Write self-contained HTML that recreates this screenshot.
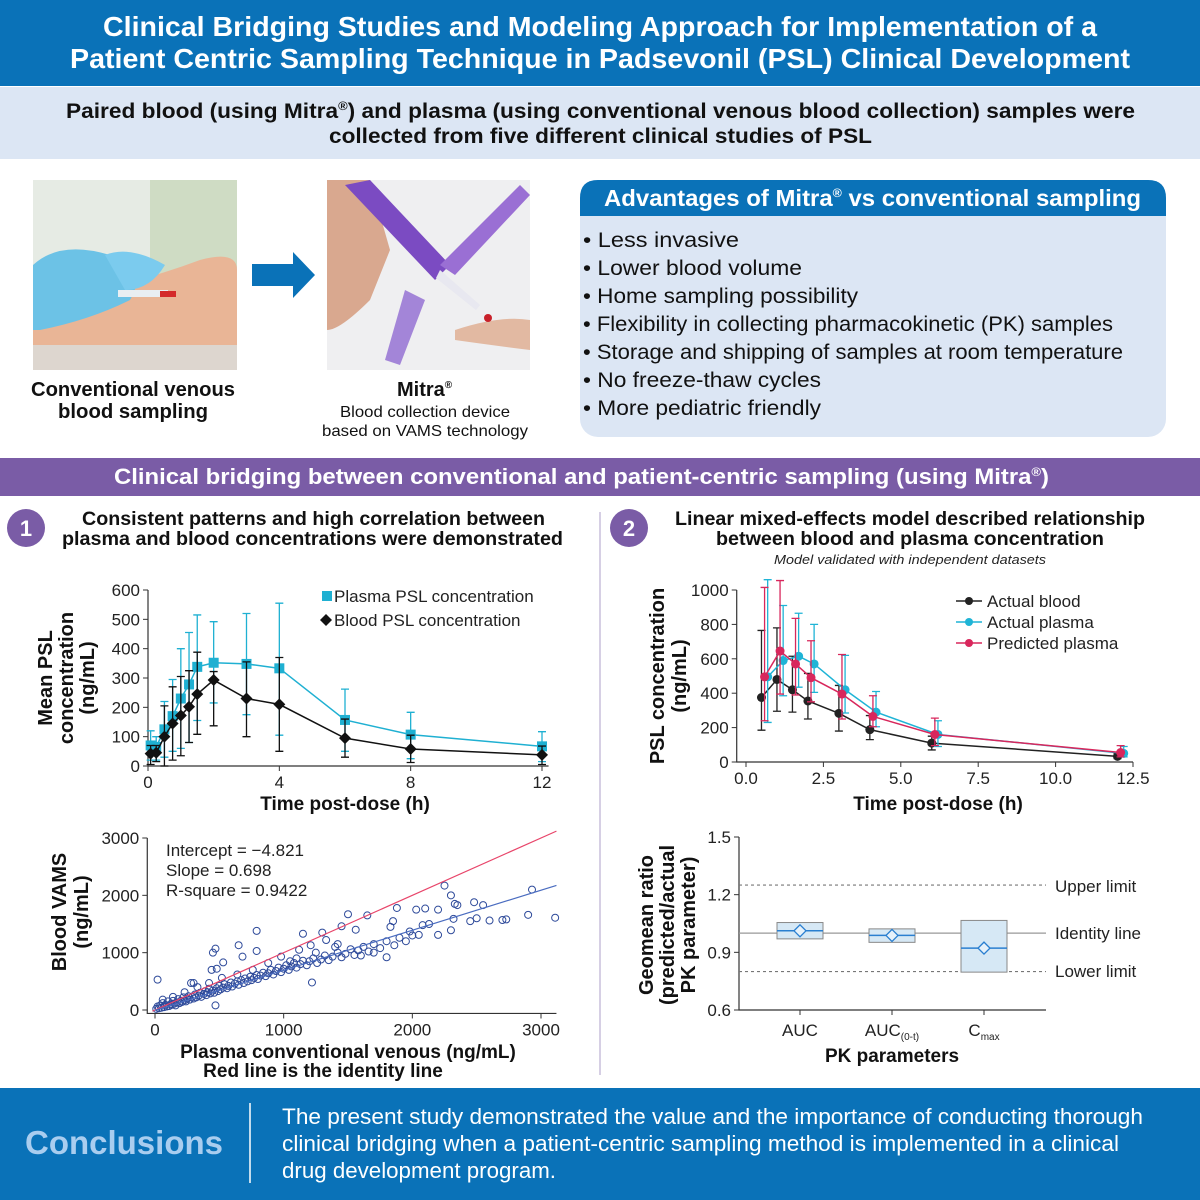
<!DOCTYPE html>
<html><head><meta charset="utf-8">
<style>
html,body{margin:0;padding:0;background:#fff;}
svg{display:block;font-family:"Liberation Sans",Arial,sans-serif;}
.b{font-weight:bold;}
</style></head>
<body>
<svg id="page" width="1200" height="1200" viewBox="0 0 1200 1200" xmlns="http://www.w3.org/2000/svg">
<!-- Header -->
<rect x="0" y="0" width="1200" height="86" fill="#0a72b8"/>
<g class="b" fill="#fff" font-size="28">
<text x="103" y="36" textLength="994" lengthAdjust="spacingAndGlyphs">Clinical Bridging Studies and Modeling Approach for Implementation of a</text>
<text x="70" y="68" textLength="1060" lengthAdjust="spacingAndGlyphs">Patient Centric Sampling Technique in Padsevonil (PSL) Clinical Development</text>
</g>
<rect x="0" y="87" width="1200" height="72" fill="#dce6f4"/>
<g class="b" fill="#111" font-size="21">
<text x="66" y="118" textLength="1069" lengthAdjust="spacingAndGlyphs">Paired blood (using Mitra<tspan font-size="12" dy="-8">®</tspan><tspan dy="8">) and plasma (using conventional venous blood collection) samples were</tspan></text>
<text x="329" y="143" textLength="543" lengthAdjust="spacingAndGlyphs">collected from five different clinical studies of PSL</text>
</g>

<!-- Photos -->
<g>
<rect x="33" y="180" width="204" height="190" fill="#e6ebe4"/>
<rect x="150" y="180" width="87" height="110" fill="#cfdcc4"/>
<path d="M33 345 L33 300 Q120 290 200 260 Q237 250 237 270 L237 350 Z" fill="#e9b596"/>
<rect x="33" y="345" width="204" height="25" fill="#ddd6cf"/>
<path d="M33 265 Q60 240 110 255 Q150 265 130 300 Q90 320 40 330 L33 330 Z" fill="#6cc2e6"/>
<path d="M105 255 Q130 245 165 265 Q150 290 125 290 Z" fill="#7bcbee"/>
<rect x="118" y="290" width="50" height="7" fill="#e9eef2"/><rect x="160" y="291" width="16" height="6" fill="#d42a2a"/>
</g>
<polygon points="252,264 293,264 293,252 315,275 293,298 293,286 252,286" fill="#0a72b8"/>
<g>
<rect x="327" y="180" width="203" height="190" fill="#efeff1"/>
<path d="M327 180 L370 180 L390 250 L370 300 Q340 330 327 330 Z" fill="#d9a88f"/>
<path d="M345 185 L370 180 L450 265 L435 280 Z" fill="#7b4bc2"/>
<path d="M440 265 L520 185 L530 195 L455 275 Z" fill="#9a6fd4"/>
<path d="M385 360 L405 290 L425 300 L400 365 Z" fill="#a385d8"/>
<path d="M440 270 L480 305 L476 310 L436 278 Z" fill="#e8e8f0"/>
<path d="M455 330 Q500 315 530 320 L530 350 Q490 345 455 340 Z" fill="#e2b9a2"/>
<circle cx="488" cy="318" r="4" fill="#c8202a"/>
</g>
<g class="b" font-size="20" fill="#111">
<text x="31" y="396" textLength="204" lengthAdjust="spacingAndGlyphs">Conventional venous</text>
<text x="58" y="418" textLength="150" lengthAdjust="spacingAndGlyphs">blood sampling</text>
</g>
<g fill="#111">
<text class="b" font-size="20" x="397" y="396">Mitra<tspan font-size="10" dy="-8">®</tspan></text>
<text font-size="16" x="340" y="417" textLength="170" lengthAdjust="spacingAndGlyphs">Blood collection device</text>
<text font-size="16" x="322" y="436" textLength="206" lengthAdjust="spacingAndGlyphs">based on VAMS technology</text>
</g>

<!-- Advantages -->
<g>
<rect x="580" y="180" width="586" height="257" rx="18" fill="#dce6f4"/>
<path d="M580 216 L580 198 Q580 180 598 180 L1148 180 Q1166 180 1166 198 L1166 216 Z" fill="#0a72b8"/>
<text class="b" fill="#fff" font-size="23" x="604" y="206" textLength="537" lengthAdjust="spacingAndGlyphs">Advantages of Mitra<tspan font-size="12" dy="-9">®</tspan><tspan dy="9"> vs conventional sampling</tspan></text>
<g font-size="21" fill="#111">
<text x="583" y="247" textLength="156" lengthAdjust="spacingAndGlyphs">• Less invasive</text>
<text x="583" y="275" textLength="219" lengthAdjust="spacingAndGlyphs">• Lower blood volume</text>
<text x="583" y="303" textLength="275" lengthAdjust="spacingAndGlyphs">• Home sampling possibility</text>
<text x="583" y="331" textLength="530" lengthAdjust="spacingAndGlyphs">• Flexibility in collecting pharmacokinetic (PK) samples</text>
<text x="583" y="359" textLength="540" lengthAdjust="spacingAndGlyphs">• Storage and shipping of samples at room temperature</text>
<text x="583" y="387" textLength="238" lengthAdjust="spacingAndGlyphs">• No freeze-thaw cycles</text>
<text x="583" y="415" textLength="238" lengthAdjust="spacingAndGlyphs">• More pediatric friendly</text>
</g></g>

<!-- Purple band -->
<rect x="0" y="458" width="1200" height="38" fill="#7a5ca6"/>
<text class="b" fill="#fff" font-size="22" x="114" y="484" textLength="935" lengthAdjust="spacingAndGlyphs">Clinical bridging between conventional and patient-centric sampling (using Mitra<tspan font-size="12" dy="-8">®</tspan><tspan dy="8">)</tspan></text>

<circle cx="26" cy="528" r="19" fill="#7a5ca6"/>
<text x="26" y="536" fill="#fff" font-size="22" class="b" text-anchor="middle">1</text>
<g class="b" font-size="19" fill="#111">
<text x="82" y="525" textLength="463" lengthAdjust="spacingAndGlyphs">Consistent patterns and high correlation between</text>
<text x="62" y="545" textLength="501" lengthAdjust="spacingAndGlyphs">plasma and blood concentrations were demonstrated</text>
</g>
<circle cx="629" cy="528" r="19" fill="#7a5ca6"/>
<text x="629" y="536" fill="#fff" font-size="22" class="b" text-anchor="middle">2</text>
<g class="b" font-size="19" fill="#111">
<text x="675" y="525" textLength="470" lengthAdjust="spacingAndGlyphs">Linear mixed-effects model described relationship</text>
<text x="716" y="545" textLength="388" lengthAdjust="spacingAndGlyphs">between blood and plasma concentration</text>
</g>
<text font-size="13" font-style="italic" x="774" y="564" textLength="272" lengthAdjust="spacingAndGlyphs" fill="#222">Model validated with independent datasets</text>
<line x1="600" y1="512" x2="600" y2="1075" stroke="#c9bfdc" stroke-width="1.5"/>

<g id="c1"></g>
<g id="c2"></g>
<g id="c3"></g>
<g id="c4"></g>

<!-- Conclusions -->
<rect x="0" y="1088" width="1200" height="112" fill="#0a72b8"/>
<text class="b" font-size="33" fill="#a9cdef" x="25" y="1154" textLength="198" lengthAdjust="spacingAndGlyphs">Conclusions</text>
<line x1="250" y1="1103" x2="250" y2="1183" stroke="#fff" stroke-width="1.5"/>
<g font-size="22" fill="#fff">
<text x="282" y="1124" textLength="861" lengthAdjust="spacingAndGlyphs">The present study demonstrated the value and the importance of conducting thorough</text>
<text x="282" y="1151" textLength="837" lengthAdjust="spacingAndGlyphs">clinical bridging when a patient-centric sampling method is implemented in a clinical</text>
<text x="282" y="1178" textLength="274" lengthAdjust="spacingAndGlyphs">drug development program.</text>
</g>
</svg>
<script>
// ---- Chart 1 data ----
const c1Times=[0.08,0.25,0.5,0.75,1,1.25,1.5,2,3,4,6,8,12];
const c1Plasma=[70,65,125,170,230,278,338,352,348,333,157,107,67];
const c1PlasmaLo=[20,20,30,50,60,80,155,215,175,105,50,25,15];
const c1PlasmaHi=[120,100,220,295,400,455,515,492,520,555,262,183,117];
const c1Blood=[42,45,100,145,172,202,245,293,230,210,95,58,38];
const c1BloodLo=[5,15,0,20,35,80,108,137,100,50,30,12,5];
const c1BloodHi=[70,70,205,270,305,325,388,322,355,370,160,105,68];
const c1XTicks=[0,4,8,12];
const c1YTicks=[0,100,200,300,400,500,600];
// ---- Chart 2 data ----
const c2BloodT=[0.5,1,1.5,2,3,4,6,12];
const c2Blood=[375,480,420,355,283,188,110,33];
const c2BloodLo=[185,295,290,250,180,130,70,20];
const c2BloodHi=[765,780,615,515,445,270,150,50];
const c2PlasmaT=[0.7,1.2,1.7,2.2,3.2,4.2,6.2,12.2];
const c2Plasma=[495,590,615,570,420,290,160,50];
const c2PlasmaLo=[230,385,435,405,285,205,90,30];
const c2PlasmaHi=[1060,910,865,800,620,410,240,90];
const c2PredT=[0.6,1.1,1.6,2.1,3.1,4.1,6.1,12.1];
const c2Pred=[495,645,570,490,395,265,160,55];
const c2PredLo=[240,395,390,350,250,205,95,30];
const c2PredHi=[1015,1055,835,705,625,385,255,95];
const c2XTicks=[0,2.5,5,7.5,10,12.5];
const c2YTicks=[0,200,400,600,800,1000];
// ---- Chart 3 data ----
const c3Intercept=-4.821;
const c3Slope=0.698;
const c3XTicks=[0,1000,2000,3000];
const c3YTicks=[0,1000,2000,3000];
const c3Points=[[20,530],[280,470],[300,470],[440,700],[450,1000],[470,1070],[480,720],[470,80],[530,830],[650,1130],[680,930],[790,1380],[790,1030],[1150,1330],[1220,480],[1300,1350],[1450,1460],[1500,1670],[1650,1650],[1800,920],[1880,1780],[2030,1750],[2100,1770],[2200,1750],[2250,2170],[2300,2000],[2330,1850],[2350,1830],[2480,1880],[2550,1830],[2450,1550],[2500,1600],[2600,1560],[2700,1570],[2730,1580],[2900,1660],[2930,2100],[3110,1610],[2200,1310],[2300,1390],[2000,1300],[2080,1480],[1950,1200],[1850,1550],[1700,1000],[1600,950],[1400,1100],[1250,1000],[1100,900],[1050,850],
[10,20],[20,60],[30,30],[40,80],[50,40],[60,120],[70,50],[80,90],[90,60],[100,150],[110,70],[120,100],[130,90],[140,160],[150,110],[160,80],[170,130],[180,190],[190,120],[200,160],[210,140],[220,220],[230,170],[240,150],[250,200],[260,240],[270,180],[290,230],[300,200],[310,270],[320,220],[340,250],[350,300],[360,230],[380,280],[390,330],[400,260],[410,310],[420,370],[430,290],[450,340],[460,300],[480,380],[490,330],[500,420],[510,360],[530,390],[540,450],[560,380],[570,420],[590,480],[600,410],[620,460],[640,500],[650,440],[670,520],[690,470],[700,550],[720,500],[740,580],[750,520],[770,560],[790,610],[800,540],[820,600],[840,650],[860,590],[880,640],[900,700],[920,620],[940,680],[960,740],[980,660],[1000,720],[1020,780],[1040,700],[1060,760],[1080,820],[1100,740],[1130,800],[1150,860],[1180,780],[1200,850],[1230,900],[1260,820],[1290,880],[1320,950],[1350,870],[1380,930],[1420,1000],[1450,920],[1480,980],[1520,1060],[1550,960],[1580,1040],[1620,1100],[1660,1020],[1700,1150],[1750,1080],[1800,1200],[1860,1130],[1900,1260],[1980,1370],[2050,1310],[2130,1500],[2320,1590],[1830,1450],[1560,1400],[1420,1150],[1330,1220],[1210,1130],[1120,1050],[980,930],[880,820],[760,700],[640,620],[520,560],[420,470],[330,400],[230,310],[140,230],[60,180]];
// ---- Chart 4 data ----
const c4Cats=["AUC","AUC(0-t)","Cmax"];
const c4Low=[0.97,0.952,0.797];
const c4High=[1.055,1.022,1.066];
const c4Mid=[1.012,0.988,0.922];
const c4YTicks=[0.6,0.9,1.2,1.5];
const c4Limits=[1.25,1.0,0.8];

const NS="http://www.w3.org/2000/svg";
function mk(parent,tag,attrs,text){const e=document.createElementNS(NS,tag);for(const k in attrs)e.setAttribute(k,attrs[k]);if(text!==undefined)e.textContent=text;parent.appendChild(e);return e;}
function lin(d0,d1,r0,r1){return v=>r0+(v-d0)*(r1-r0)/(d1-d0);}

function axes(g,x,y,xd,yd,xt,yt,fmtx,fmty){
  const a=mk(g,'path',{d:`M${x(xd[0])} ${y(yd[1])} L${x(xd[0])} ${y(yd[0])} L${x(xd[1])} ${y(yd[0])}`,fill:'none',stroke:'#333','stroke-width':1.2});
  
  
  xt.forEach(v=>{mk(g,'line',{x1:x(v),x2:x(v),y1:y(yd[0]),y2:y(yd[0])+5,stroke:'#333'});
    const t=mk(g,'text',{x:x(v),y:y(yd[0])+22,'font-size':17,'text-anchor':'middle',fill:'#222'},fmtx(v));
    
    });
  yt.forEach(v=>{mk(g,'line',{x1:x(xd[0])-5,x2:x(xd[0]),y1:y(v),y2:y(v),stroke:'#333'});
    const t=mk(g,'text',{x:x(xd[0])-8,y:y(v)+6,'font-size':17,'text-anchor':'end',fill:'#222'},fmty(v));
    
    });
}
function series(g,x,y,T,V,L,H,color,marker,name){
  const s=mk(g,'g',{});
  
  
  T.forEach((t,i)=>{const cx=x(t);mk(s,'path',{d:`M${cx} ${y(L[i])}V${y(H[i])}M${cx-4} ${y(L[i])}H${cx+4}M${cx-4} ${y(H[i])}H${cx+4}`,stroke:color,'stroke-width':1.3,fill:'none'});});
  mk(s,'polyline',{points:T.map((t,i)=>x(t)+','+y(V[i])).join(' '),fill:'none',stroke:color,'stroke-width':1.5});
  T.forEach((t,i)=>{const cx=x(t),cy=y(V[i]);let m;
    if(marker==='sq')m=mk(s,'rect',{x:cx-5,y:cy-5,width:10,height:10,fill:color});
    else if(marker==='dia')m=mk(s,'polygon',{points:`${cx},${cy-6} ${cx+6},${cy} ${cx},${cy+6} ${cx-6},${cy}`,fill:color});
    else m=mk(s,'circle',{cx:cx,cy:cy,r:4.5,fill:color});
    
    });
}
function ytitle(g,lines,cx,cy,step,size){const t=mk(g,'text',{transform:`translate(${cx},${cy}) rotate(-90)`,'font-size':size||20,'font-weight':'bold','text-anchor':'middle',fill:'#111'});
  
  
  lines.forEach((l,i)=>{mk(t,'tspan',{x:0,y:i*step-(lines.length-1)*step/2+7},l);});}
function xtitle(g,txt,x,y){const t=mk(g,'text',{x:x,y:y,'font-size':19,'font-weight':'bold','text-anchor':'middle',fill:'#111'},txt);
  
  return t;}

// Chart 1
(function(){const g=document.getElementById('c1');
const x=lin(0,12,148,542),y=lin(0,600,766,590);
axes(g,x,y,[0,12.2],[0,600],c1XTicks,c1YTicks,v=>v,v=>v);
series(g,x,y,c1Times,c1Plasma,c1PlasmaLo,c1PlasmaHi,'#1fb0d2','sq','plasma-series');
series(g,x,y,c1Times,c1Blood,c1BloodLo,c1BloodHi,'#111','dia','blood-series');
ytitle(g,['Mean PSL','concentration','(ng/mL)'],66,678,21);
xtitle(g,'Time post-dose (h)',345,810);
const l1=mk(g,'g',{});


mk(l1,'rect',{x:322,y:591,width:10,height:10,fill:'#1fb0d2'});
mk(l1,'text',{x:334,y:602,'font-size':17,fill:'#222'},'Plasma PSL concentration');
mk(l1,'polygon',{points:'326,614 332,620 326,626 320,620',fill:'#111'});
mk(l1,'text',{x:334,y:626,'font-size':17,fill:'#222'},'Blood PSL concentration');
})();
// Chart 2
(function(){const g=document.getElementById('c2');
const x=lin(0,12.5,746,1133),y=lin(0,1000,762,590);
axes(g,x,y,[-0.3,12.5],[0,1000],c2XTicks,c2YTicks,v=>v.toFixed(1),v=>v);
series(g,x,y,c2BloodT,c2Blood,c2BloodLo,c2BloodHi,'#222','dot','actual-blood-series');
series(g,x,y,c2PlasmaT,c2Plasma,c2PlasmaLo,c2PlasmaHi,'#1fb4d6','dot','actual-plasma-series');
series(g,x,y,c2PredT,c2Pred,c2PredLo,c2PredHi,'#d8275c','dot','predicted-plasma-series');
ytitle(g,['PSL concentration','(ng/mL)'],668,676,22);
xtitle(g,'Time post-dose (h)',938,810);
const lg=mk(g,'g',{});


[['Actual blood','#222'],['Actual plasma','#1fb4d6'],['Predicted plasma','#d8275c']].forEach((e,i)=>{const yy=601+i*21;
mk(lg,'line',{x1:956,x2:982,y1:yy,y2:yy,stroke:e[1],'stroke-width':1.5});mk(lg,'circle',{cx:969,cy:yy,r:4,fill:e[1]});
mk(lg,'text',{x:987,y:yy+6,'font-size':17,fill:'#222'},e[0]);});
})();
// Chart 3
(function(){const g=document.getElementById('c3');
const x=lin(0,3000,155,541),y=lin(0,3000,1010,838);
axes(g,x,y,[-60,3120],[-60,3000],c3XTicks,c3YTicks,v=>v,v=>v);
const pts=mk(g,'g',{});


c3Points.forEach(p=>{const c=mk(pts,'circle',{cx:x(p[0]),cy:y(p[1]),r:3.5,fill:'none',stroke:'#2e4a9a','stroke-width':1});

});
const il=mk(g,'line',{x1:x(-20),y1:y(-20),x2:x(3120),y2:y(3120),stroke:'#e8456a','stroke-width':1.2});


const rl=mk(g,'line',{x1:x(0),y1:y(c3Intercept),x2:x(3120),y2:y(c3Intercept+c3Slope*3120),stroke:'#4a6cc0','stroke-width':1.2});


const st=mk(g,'text',{'font-size':17,fill:'#222'});


mk(st,'tspan',{x:166,y:856},'Intercept = −'+Math.abs(c3Intercept));
mk(st,'tspan',{x:166,y:876},'Slope = '+c3Slope);
mk(st,'tspan',{x:166,y:896},'R-square = 0.9422');
ytitle(g,['Blood VAMS','(ng/mL)'],70,912,22);
xtitle(g,'Plasma conventional venous (ng/mL)',348,1058);
xtitle(g,'Red line is the identity line',323,1077);
})();
// Chart 4
(function(){const g=document.getElementById('c4');
const y=lin(0.6,1.5,1010,837);const x0=739,x1=1046;const cx=[800,892,984];
axes(g,v=>v===0?x0:x1,y,[0,1],[0.6,1.5],[],c4YTicks,v=>'',v=>v.toFixed(1));
const names=['upper-limit','identity-line','lower-limit'];
c4Limits.forEach((v,i)=>{const l=mk(g,'line',{x1:x0,x2:x1,y1:y(v),y2:y(v),stroke:i===1?'#999':'#777','stroke-width':1.2,'stroke-dasharray':i===1?'':'3,3'});

});
c4Cats.forEach((c,i)=>{const b=mk(g,'g',{});


mk(b,'rect',{x:cx[i]-23,y:y(c4High[i]),width:46,height:y(c4Low[i])-y(c4High[i]),fill:'#d6e8f5',stroke:'#888','stroke-width':1});
mk(b,'line',{x1:cx[i]-23,x2:cx[i]+23,y1:y(c4Mid[i]),y2:y(c4Mid[i]),stroke:'#2a7fd0','stroke-width':1.5});
const m=y(c4Mid[i]);mk(b,'polygon',{points:`${cx[i]},${m-6} ${cx[i]+6},${m} ${cx[i]},${m+6} ${cx[i]-6},${m}`,fill:'#e6f1fa',stroke:'#2a7fd0','stroke-width':1.3});
mk(g,'line',{x1:cx[i],x2:cx[i],y1:1010,y2:1015,stroke:'#333'});});
const lab=mk(g,'g',{'font-size':17,fill:'#222','text-anchor':'middle'});


mk(lab,'text',{x:800,y:1036},'AUC');
const t2=mk(lab,'text',{x:892,y:1036},'AUC');mk(t2,'tspan',{'font-size':10,dy:4},'(0-t)');
const t3=mk(lab,'text',{x:984,y:1036},'C');mk(t3,'tspan',{'font-size':10,dy:4},'max');
const ll=mk(g,'g',{'font-size':17,fill:'#222'});


mk(ll,'text',{x:1055,y:892},'Upper limit');
mk(ll,'text',{x:1055,y:939},'Identity line');
mk(ll,'text',{x:1055,y:977},'Lower limit');
ytitle(g,['Geomean ratio','(predicted/actual','PK parameter)'],667,925,21);
xtitle(g,'PK parameters',892,1062);
})();
</script>
</body></html>
